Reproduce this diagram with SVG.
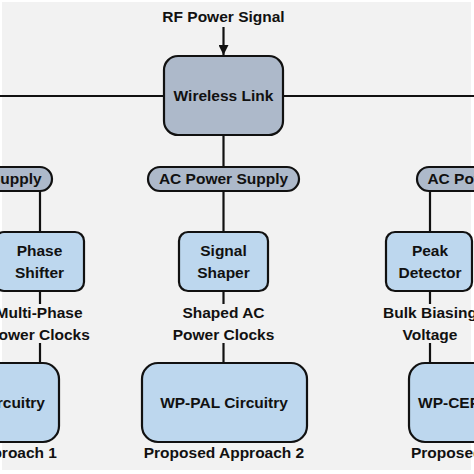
<svg xmlns="http://www.w3.org/2000/svg" width="474" height="474" viewBox="0 0 474 474">
  <style>
    text { font-family: "Liberation Sans", Arial, sans-serif; font-weight: bold; font-size: 15.5px; fill: #111; text-anchor: middle; }
    .gray { fill: #adb9ca; stroke: #111; stroke-width: 2.2; }
    .blue { fill: #bdd7ee; stroke: #111; stroke-width: 2.2; }
    .conn line { stroke: #111; stroke-width: 2.2; fill: none; }
  </style>
  <defs>
    <marker id="arrow" viewBox="0 0 10 10" refX="10" refY="5" markerWidth="10" markerHeight="10" markerUnits="userSpaceOnUse" orient="auto">
      <path d="M0,0 L10,5 L0,10 Z" fill="#111"/>
    </marker>
  </defs>
  <rect x="0" y="0" width="474" height="474" fill="#ffffff"/>
  <rect x="2" y="2" width="469" height="468" fill="#f2f2f2"/>

  <g id="connectors" class="conn">
    <line x1="223.5" y1="27" x2="223.5" y2="55" marker-end="url(#arrow)"/>
    <line x1="0" y1="96" x2="164" y2="96"/>
    <line x1="283" y1="96" x2="474" y2="96"/>
    <line x1="223.5" y1="135" x2="223.5" y2="167"/>
    <line x1="40" y1="191" x2="40" y2="232"/>
    <line x1="223.5" y1="191" x2="223.5" y2="232"/>
    <line x1="430" y1="191" x2="430" y2="232"/>
    <line x1="40" y1="291" x2="40" y2="304"/>
    <line x1="223.5" y1="291" x2="223.5" y2="304"/>
    <line x1="430" y1="291" x2="430" y2="304"/>
    <line x1="40" y1="343" x2="40" y2="363"/>
    <line x1="223.5" y1="343" x2="223.5" y2="363"/>
    <line x1="430" y1="343" x2="430" y2="363"/>
  </g>

  <g id="rf-signal">
    <text x="223.5" y="22">RF Power Signal</text>
  </g>

  <g id="wireless-link">
    <rect class="gray" x="164" y="56" width="119" height="79" rx="14"/>
    <text x="223.5" y="101">Wireless Link</text>
  </g>

  <g id="ac-supply-1">
    <rect class="gray" x="-99" y="167" width="151" height="24" rx="12"/>
    <text x="-23" y="184">AC Power Supply</text>
  </g>
  <g id="ac-supply-2">
    <rect class="gray" x="148" y="167" width="151" height="24" rx="12"/>
    <text x="223.5" y="184">AC Power Supply</text>
  </g>
  <g id="ac-supply-3">
    <rect class="gray" x="417" y="167" width="151" height="24" rx="12"/>
    <text x="492" y="184">AC Power Supply</text>
  </g>

  <g id="phase-shifter">
    <rect class="blue" x="-5" y="232" width="89" height="59" rx="9"/>
    <text x="39.5" y="256">Phase</text>
    <text x="39.5" y="278">Shifter</text>
  </g>
  <g id="signal-shaper">
    <rect class="blue" x="179" y="232" width="89" height="59" rx="9"/>
    <text x="223.5" y="256">Signal</text>
    <text x="223.5" y="278">Shaper</text>
  </g>
  <g id="peak-detector">
    <rect class="blue" x="386" y="232" width="86" height="59" rx="9"/>
    <text x="430" y="256">Peak</text>
    <text x="430" y="278">Detector</text>
  </g>

  <g id="label-1">
    <text x="39" y="317.5">Multi-Phase</text>
    <text x="39" y="339.5">Power Clocks</text>
  </g>
  <g id="label-2">
    <text x="223.5" y="317.5">Shaped AC</text>
    <text x="223.5" y="339.5">Power Clocks</text>
  </g>
  <g id="label-3">
    <text x="430" y="317.5">Bulk Biasing</text>
    <text x="430" y="339.5">Voltage</text>
  </g>

  <g id="circuit-1">
    <rect class="blue" x="-107" y="363" width="166" height="79" rx="16"/>
    <text x="45" y="408" style="text-anchor:end">Circuitry</text>
  </g>
  <g id="circuit-2">
    <rect class="blue" x="142" y="363" width="165" height="79" rx="16"/>
    <text x="224" y="408">WP-PAL Circuitry</text>
  </g>
  <g id="circuit-3">
    <rect class="blue" x="409" y="363" width="166" height="79" rx="16"/>
    <text x="418" y="408" style="text-anchor:start">WP-CEPAL Circuitry</text>
  </g>

  <g id="approach-1">
    <text x="57" y="458" style="text-anchor:end">Proposed Approach 1</text>
  </g>
  <g id="approach-2">
    <text x="224" y="458">Proposed Approach 2</text>
  </g>
  <g id="approach-3">
    <text x="411" y="458" style="text-anchor:start">Proposed Approach 3</text>
  </g>
</svg>
